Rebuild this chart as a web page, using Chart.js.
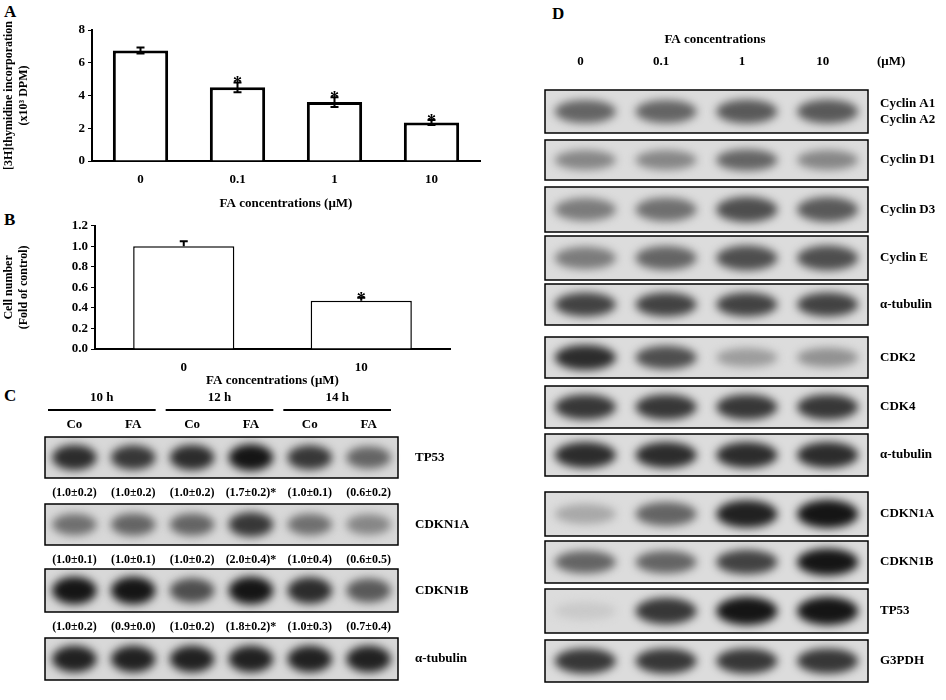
<!DOCTYPE html><html><head><meta charset="utf-8">
<script src="https://cdn.jsdelivr.net/npm/chart.js@4"></script>
<style>
body{margin:0;width:946px;height:700px;background:#fff;position:relative;font-family:"Liberation Serif",serif;font-weight:bold;overflow:hidden}
.abs{position:absolute}
.lbl{position:absolute;font-size:13px;color:#000;white-space:nowrap}
.big{font-size:17px}
</style></head><body>
<div class="lbl big" style="left:4px;top:2px">A</div>
<div class="lbl big" style="left:4px;top:210px">B</div>
<div class="lbl big" style="left:4px;top:386px">C</div>
<div class="lbl big" style="left:552px;top:4px">D</div>
<div class="abs" style="left:0;top:15px;width:490px;height:200px"><canvas id="ca"></canvas></div>
<div class="abs" style="left:0;top:215px;width:460px;height:177px"><canvas id="cb"></canvas></div>
<canvas id="blots" class="abs" width="946" height="700" style="left:0;top:0"></canvas>
<script>
// ---- data ----
const catsA=['0','0.1','1','10'];
const valsA=[6.75,4.5,3.6,2.35];
const errA=[0.18,0.3,0.3,0.15];
const starA=[false,true,true,true];
const catsB=['0','10'];
const valsB=[1.0,0.47];
const errB=[0.05,0.03];
const starB=[false,true];
const ticksA=[0,2,4,6,8];
const ticksB=[0,0.2,0.4,0.6,0.8,1.0,1.2];

const font={family:'"Liberation Serif", serif',weight:'bold',size:13};
const errPlugin={id:'err',afterDatasetsDraw(ch,a,o){
  const {ctx}=ch, ds=ch.data.datasets[0], meta=ch.getDatasetMeta(0), y=ch.scales.y;
  ctx.save();ctx.strokeStyle='#000';ctx.lineWidth=2;ctx.fillStyle='#000';
  ctx.font='bold 18px "Liberation Serif", serif';ctx.textAlign='center';ctx.textBaseline='alphabetic';
  meta.data.forEach((b,i)=>{
    const v=ds.data[i],e=ds.err[i],top=y.getPixelForValue(v+e),bot=y.getPixelForValue(ds.upOnly?v:v-e);
    ctx.beginPath();ctx.moveTo(b.x,top);ctx.lineTo(b.x,bot);
    ctx.moveTo(b.x-4,top);ctx.lineTo(b.x+4,top);
    if(!ds.upOnly){ctx.moveTo(b.x-4,bot);ctx.lineTo(b.x+4,bot);}
    ctx.stroke();
    if(ds.star[i]) ctx.fillText('*',b.x,top+7);
  });ctx.restore();}};

function mk(id,cats,vals,err,star,ticks,max,title,yw,xh,padTop,bw,upOnly,dec,bordW){
  new Chart(document.getElementById(id),{type:'bar',
   data:{labels:cats,datasets:[{data:vals,err:err,star:star,upOnly:upOnly,backgroundColor:'#fff',borderColor:'#000',borderWidth:bordW,barPercentage:bw,categoryPercentage:1}]},
   options:{responsive:true,maintainAspectRatio:false,animation:false,
    layout:{padding:{top:padTop,right:10}},
    plugins:{legend:{display:false},tooltip:{enabled:false}},
    scales:{
     x:{grid:{display:false},border:{color:'#000',width:2},ticks:{color:'#000',font},
        title:{display:true,text:'FA concentrations (μM)',color:'#000',font:{...font,size:13},padding:{top:4}},
        afterFit(s){s.height=xh;}},
     y:{min:0,max:max,afterBuildTicks(s){s.ticks=ticks.map(v=>({value:v}));},
        grid:{drawOnChartArea:false,color:'#000',tickLength:4},border:{color:'#000',width:2},
        ticks:{color:'#000',font,callback:v=>v.toFixed(dec)},
        title:{display:true,text:title,color:'#000',font:{...font,size:12},padding:2},
        afterFit(s){s.width=yw;}}}},
   plugins:[errPlugin]});
}
mk('ca',catsA,valsA,errA,starA,ticksA,8,['[3H]thymidine incorporation','(x10³ DPM)'],92,54,15,0.57,false,0,3);
mk('cb',catsB,valsB,errB,starB,ticksB,1.2,['Cell number','(Fold of control)'],95,43,9,0.57,true,1,1.5);

// ---- blots ----
const cLanes=['Co','FA','Co','FA','Co','FA'];
const cTimes=['10 h','12 h','14 h'];
const cRows=['TP53','CDKN1A','CDKN1B','α-tubulin'];
const cInt=[[0.85,0.8,0.85,0.95,0.8,0.6],[0.55,0.6,0.6,0.8,0.55,0.45],[0.95,0.95,0.7,0.95,0.85,0.65],[0.9,0.9,0.9,0.9,0.9,0.9]];
const cQuant=[['(1.0±0.2)','(1.0±0.2)','(1.0±0.2)','(1.7±0.2)*','(1.0±0.1)','(0.6±0.2)'],
 ['(1.0±0.1)','(1.0±0.1)','(1.0±0.2)','(2.0±0.4)*','(1.0±0.4)','(0.6±0.5)'],
 ['(1.0±0.2)','(0.9±0.0)','(1.0±0.2)','(1.8±0.2)*','(1.0±0.3)','(0.7±0.4)']];
const dConc=['0','0.1','1','10'];
const dRows=[['Cyclin A1','Cyclin A2'],['Cyclin D1'],['Cyclin D3'],['Cyclin E'],['α-tubulin'],['CDK2'],['CDK4'],['α-tubulin'],['CDKN1A'],['CDKN1B'],['TP53'],['G3PDH']];
const dInt=[[0.6,0.6,0.65,0.65],[0.45,0.45,0.6,0.45],[0.5,0.55,0.7,0.65],[0.5,0.6,0.7,0.7],[0.75,0.75,0.75,0.75],[0.85,0.7,0.35,0.4],[0.8,0.8,0.8,0.8],[0.85,0.85,0.85,0.85],[0.3,0.6,0.9,0.95],[0.6,0.6,0.75,0.95],[0.15,0.8,0.95,0.95],[0.8,0.8,0.8,0.8]];
const dBoxes=[[90,133],[140,180],[187,232],[236,280],[284,325],[337,378],[386,428],[434,476],[492,536],[541,583],[589,633],[640,682]];
const cBoxes=[[437,478],[504,545],[569,612],[638,680]];

const g=document.getElementById('blots').getContext('2d');
function box(x0,x1,y0,y1,ints,bg){
  g.fillStyle=bg;g.fillRect(x0,y0,x1-x0,y1-y0);
  const n=ints.length,w=(x1-x0)/n;
  g.save();g.filter='blur(4px)';
  ints.forEach((v,i)=>{const cx=x0+w*(i+0.5),cy=(y0+y1)/2;const c=Math.round(235-225*v);
    g.fillStyle=`rgb(${c},${c},${c})`;g.beginPath();g.ellipse(cx,cy,w*0.38,(y1-y0)*(0.18+0.15*v),0,0,Math.PI*2);g.fill();});
  g.restore();
  g.strokeStyle='#000';g.lineWidth=1.5;g.strokeRect(x0,y0,x1-x0,y1-y0);
}
function txt(t,x,y,al,sz){g.font=`bold ${sz||13}px "Liberation Serif", serif`;g.fillStyle='#000';g.textAlign=al||'left';g.textBaseline='middle';g.fillText(t,x,y);}
// C
const cx0=45,cx1=398,cw=(cx1-cx0)/6;
cTimes.forEach((t,i)=>{const a=cx0+cw*2*i+3,b=a+cw*2-10;txt(t,(a+b)/2,398,'center');g.fillRect(a,409,b-a,2);});
cLanes.forEach((l,i)=>txt(l,cx0+cw*(i+0.5),425,'center'));
cRows.forEach((r,k)=>{const [y0,y1]=cBoxes[k];box(cx0,cx1,y0,y1,cInt[k],'#d8d8d8');txt(r,415,(y0+y1)/2);
  if(cQuant[k]) cQuant[k].forEach((q,i)=>txt(q,cx0+cw*(i+0.5),y1+15,'center',12));});
// D
const dx0=545,dx1=868,dw=(dx1-dx0)/4;
txt('FA concentrations',715,40,'center');
dConc.forEach((c,i)=>txt(c,dx0+dw*(i+0.5)-5,62,'center'));txt('(μM)',877,62);
dRows.forEach((r,k)=>{const [y0,y1]=dBoxes[k];box(dx0,dx1,y0,y1,dInt[k],'#dcdcdc');
  if(r.length===2){txt(r[0],880,(y0+y1)/2-8);txt(r[1],880,(y0+y1)/2+8);}else txt(r[0],880,(y0+y1)/2);});
</script></body></html>
